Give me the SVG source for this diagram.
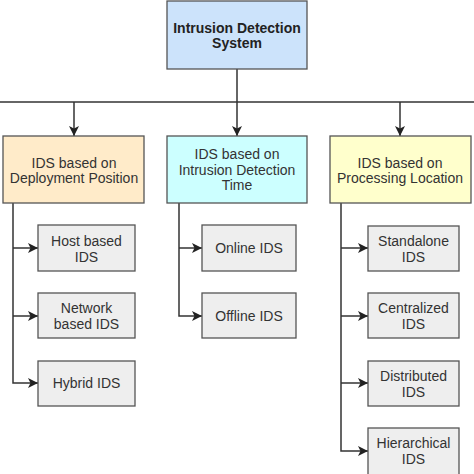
<svg xmlns="http://www.w3.org/2000/svg" width="474" height="474" viewBox="0 0 474 474">
<style>
.box{stroke:#555;stroke-width:1.3}
.leaf{fill:#eeeeee;stroke:#555;stroke-width:1.3}
text{font-family:"Liberation Sans",Arial,sans-serif;font-size:14px;fill:#333;text-anchor:middle}
.title{font-weight:bold;fill:#222}
.con{stroke:#333;stroke-width:1.5;fill:none}
</style>
<defs>
<marker id="arr" markerWidth="12" markerHeight="12" refX="11" refY="6" orient="auto" markerUnits="userSpaceOnUse">
<path d="M1,1 L11,6 L1,11 L3.5,6 Z" fill="#222"/>
</marker>
</defs>
<rect width="474" height="474" fill="#ffffff"/>
<g id="connectors">
<path class="con" d="M237,69 V136" marker-end="url(#arr)"/>
<path class="con" d="M0,102 H474"/>
<path class="con" d="M74,102 V136" marker-end="url(#arr)"/>
<path class="con" d="M400,102 V136" marker-end="url(#arr)"/>
<path class="con" d="M13,203 V383 H38" marker-end="url(#arr)"/>
<path class="con" d="M13,248 H38" marker-end="url(#arr)"/>
<path class="con" d="M13,316 H38" marker-end="url(#arr)"/>
<path class="con" d="M179,203 V316 H202" marker-end="url(#arr)"/>
<path class="con" d="M179,248 H202" marker-end="url(#arr)"/>
<path class="con" d="M341,203 V451 H368" marker-end="url(#arr)"/>
<path class="con" d="M341,248 H368" marker-end="url(#arr)"/>
<path class="con" d="M341,316 H368" marker-end="url(#arr)"/>
<path class="con" d="M341,383 H368" marker-end="url(#arr)"/>
</g>
<g id="root">
<rect class="box" x="167" y="1" width="140" height="68" fill="#cce3fb"/>
<text class="title" x="237" y="33">Intrusion Detection</text>
<text class="title" x="237" y="48">System</text>
</g>
<g id="deployment">
<rect class="box" x="3" y="136" width="141" height="67" fill="#ffebc9"/>
<text x="74" y="168">IDS based on</text>
<text x="74" y="183">Deployment Position</text>
</g>
<g id="detection-time">
<rect class="box" x="167" y="136" width="140" height="67" fill="#ccffff"/>
<text x="237" y="159">IDS based on</text>
<text x="237" y="175">Intrusion Detection</text>
<text x="237" y="190">Time</text>
</g>
<g id="processing">
<rect class="box" x="330" y="136" width="141" height="67" fill="#ffffcc"/>
<text x="400" y="168">IDS based on</text>
<text x="400" y="183">Processing Location</text>
</g>
<g id="host">
<rect class="leaf" x="38" y="225" width="97" height="46"/>
<text x="86.5" y="246">Host based</text>
<text x="86.5" y="262">IDS</text>
</g>
<g id="network">
<rect class="leaf" x="38" y="293" width="97" height="45"/>
<text x="86.5" y="313">Network</text>
<text x="86.5" y="329">based IDS</text>
</g>
<g id="hybrid">
<rect class="leaf" x="38" y="361" width="97" height="45"/>
<text x="86.5" y="388">Hybrid IDS</text>
</g>
<g id="online">
<rect class="leaf" x="202" y="225" width="94" height="46"/>
<text x="249" y="253">Online IDS</text>
</g>
<g id="offline">
<rect class="leaf" x="202" y="293" width="94" height="45"/>
<text x="249" y="321">Offline IDS</text>
</g>
<g id="standalone">
<rect class="leaf" x="368" y="226" width="91" height="45"/>
<text x="413.5" y="246">Standalone</text>
<text x="413.5" y="262">IDS</text>
</g>
<g id="centralized">
<rect class="leaf" x="368" y="293" width="91" height="45"/>
<text x="413.5" y="313">Centralized</text>
<text x="413.5" y="329">IDS</text>
</g>
<g id="distributed">
<rect class="leaf" x="368" y="361" width="91" height="45"/>
<text x="413.5" y="381">Distributed</text>
<text x="413.5" y="397">IDS</text>
</g>
<g id="hierarchical">
<rect class="leaf" x="368" y="428" width="91" height="50"/>
<text x="413.5" y="448">Hierarchical</text>
<text x="413.5" y="464">IDS</text>
</g>
</svg>
